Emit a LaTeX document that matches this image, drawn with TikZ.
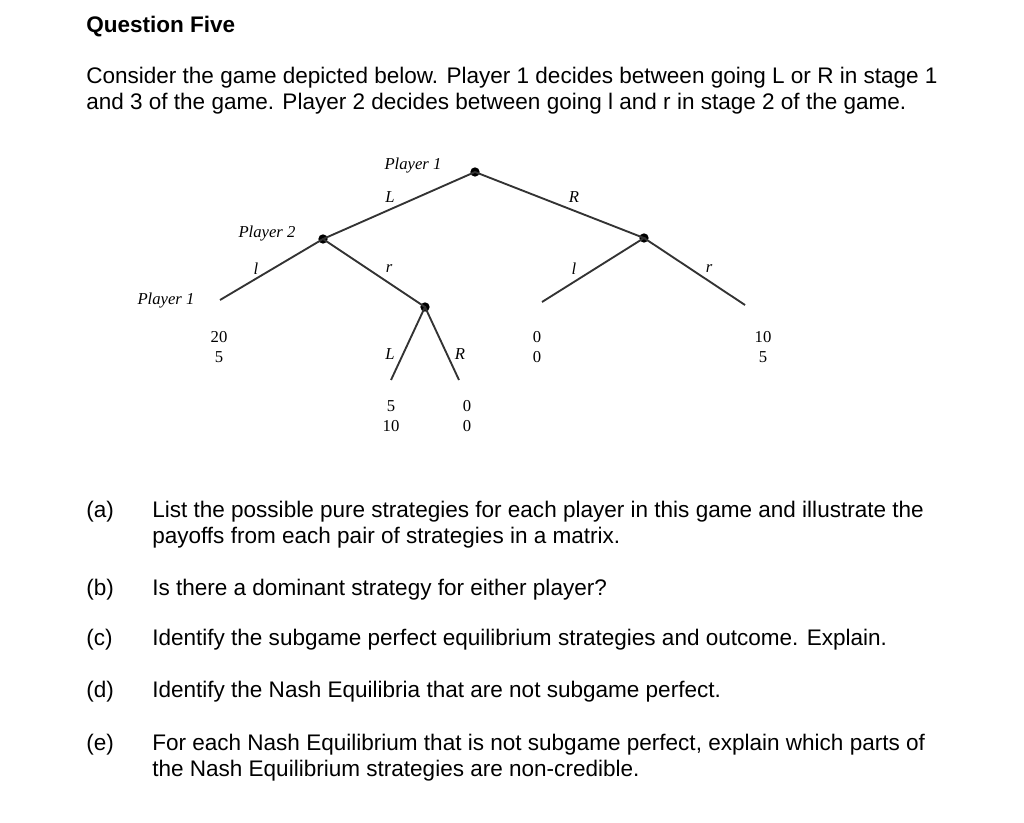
\documentclass[tikz,border=0pt]{standalone}
\usepackage{fontspec}
\setmainfont{Liberation Sans}
\newfontfamily\tms{Liberation Serif}
\begin{document}
\begin{tikzpicture}[x=0.75pt,y=-0.75pt,
  txt/.style={anchor=west,inner sep=0pt,font=\fontsize{16.9}{19}\selectfont},
  lab/.style={inner sep=0pt,font=\tms\itshape\fontsize{12.5}{14}\selectfont},
  pay/.style={inner sep=0pt,align=center,font=\tms\fontsize{12.5}{14.5}\selectfont},
  dot/.style={circle,fill=black,inner sep=0pt,minimum size=7pt},
  br/.style={line width=1.4pt,draw=black!80}]
\useasboundingbox (0,0) rectangle (1024,823);
\node[txt,font=\bfseries\fontsize{16.9}{19}\selectfont] (title) at (86,27) {Question Five};
\node[txt] (p1) at (86,78) {Consider the game depicted below. Player 1 decides between going L or R in stage 1};
\node[txt] (p2) at (86,104) {and 3 of the game. Player 2 decides between going l and r in stage 2 of the game.};
% tree
\node[dot] (root) at (475,172) {};
\node[dot] (n2) at (323,239) {};
\node[dot] (nr) at (644,238) {};
\node[dot] (n3) at (425,307) {};
\coordinate (ll) at (220,300);
\coordinate (rl) at (542,302);
\coordinate (rr) at (745,305);
\coordinate (lL) at (391,380);
\coordinate (lR) at (459,380);
\draw[br] (root.center) -- (n2.center) -- (ll);
\draw[br] (n2.center) -- (n3.center) -- (lL);
\draw[br] (n3.center) -- (lR);
\draw[br] (root.center) -- (nr.center) -- (rl);
\draw[br] (nr.center) -- (rr);
\node[lab] (t1) at (413,166) {Player 1};
\node[lab] (t2) at (267,234) {Player 2};
\node[lab] (t3) at (166,301) {Player 1};
\node[lab] (lL1) at (390,197) {L};
\node[lab] (lR1) at (574,197) {R};
\node[lab] (ll2) at (256,269) {l};
\node[lab] (lr2) at (389,269) {r};
\node[lab] (rl2) at (574,269) {l};
\node[lab] (rr2) at (709,269) {r};
\node[lab] (lL3) at (390,354) {L};
\node[lab] (lR3) at (460,354) {R};
\node[pay] (a) at (219,347) {20\\5};
\node[pay] (b) at (391,416) {5\\10};
\node[pay] (c) at (467,416) {0\\0};
\node[pay] (d) at (537,347) {0\\0};
\node[pay] (e) at (763,347) {10\\5};
% questions
\node[txt] (qa) at (86,512) {(a)};
\node[txt] (qa1) at (152,512) {List the possible pure strategies for each player in this game and illustrate the};
\node[txt] (qa2) at (152,538) {payoffs from each pair of strategies in a matrix.};
\node[txt] (qb) at (86,590) {(b)};
\node[txt] (qb1) at (152,590) {Is there a dominant strategy for either player?};
\node[txt] (qc) at (86,640) {(c)};
\node[txt] (qc1) at (152,640) {Identify the subgame perfect equilibrium strategies and outcome. Explain.};
\node[txt] (qd) at (86,692) {(d)};
\node[txt] (qd1) at (152,692) {Identify the Nash Equilibria that are not subgame perfect.};
\node[txt] (qe) at (86,745) {(e)};
\node[txt] (qe1) at (152,745) {For each Nash Equilibrium that is not subgame perfect, explain which parts of};
\node[txt] (qe2) at (152,771) {the Nash Equilibrium strategies are non-credible.};
\end{tikzpicture}
\end{document}
